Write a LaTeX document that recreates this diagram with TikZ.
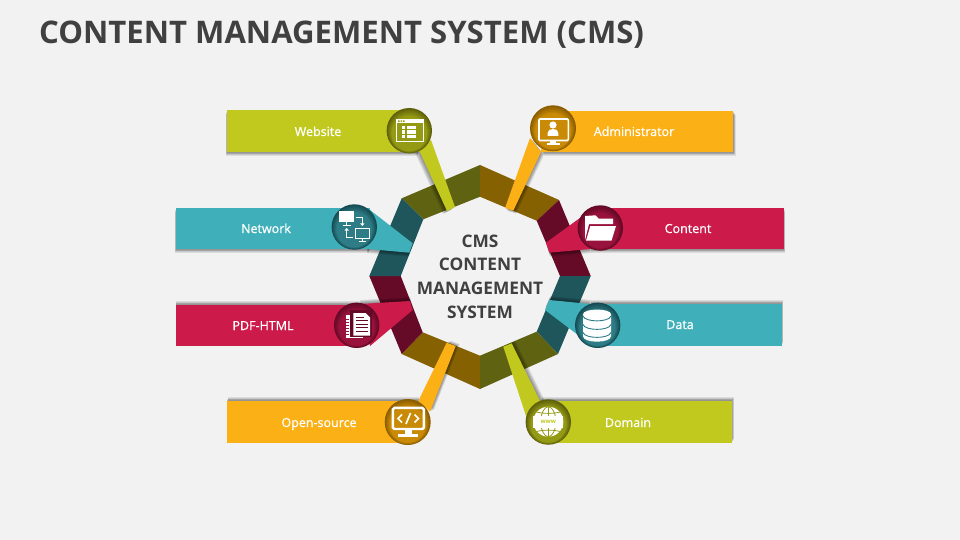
\documentclass[tikz,border=0pt]{standalone}
\usepackage{fontspec}
\setmainfont{Open Sans}
\newfontfamily\labfont{Open Sans}[FakeBold=0.8]
\definecolor{bg}{HTML}{F2F2F2}
\definecolor{ink}{HTML}{404040}
\definecolor{limec}{HTML}{C1C91E}
\definecolor{orangec}{HTML}{FBB116}
\definecolor{tealc}{HTML}{3FB0B9}
\definecolor{crimc}{HTML}{CC1A4A}
\definecolor{limem}{HTML}{959A14}
\definecolor{limed}{HTML}{5E610A}
\definecolor{orangem}{HTML}{C98A05}
\definecolor{oranged}{HTML}{8A5D00}
\definecolor{tealm}{HTML}{2E7D86}
\definecolor{teald}{HTML}{154C54}
\definecolor{crimm}{HTML}{98123C}
\definecolor{crimd}{HTML}{640925}
\definecolor{segolive}{HTML}{5F6311}
\definecolor{segbrown}{HTML}{856102}
\definecolor{segmaroon}{HTML}{660B27}
\definecolor{segteal}{HTML}{1F565C}
\newcommand\softsh[3]{\foreach \k in {1,2,3,4,5}{\fill[black,opacity=.09,shift={({\k*(#1)/5},{\k*(#2)/5})}] #3;}}
% badge: centre x, centre y, radius, colour stem
\newcommand\badge[4]{%
  \fill[#4d] (#1,#2) circle[radius=#3];
  \foreach \k in {1,2,3,4,5}{\fill[#4m!\the\numexpr\k*20\relax!#4d] ({#1},{#2+\k*0.55}) circle[radius={#3-\k*1.0}];}
}
\tikzset{
  label text/.style={text=white,font=\labfont\fontsize{12.5}{15}\selectfont,inner sep=0pt,anchor=base},
  center text/.style={text=ink,font=\fontsize{17.3}{22}\selectfont\bfseries,inner sep=0pt,anchor=center},
  iconline/.style={draw=white,line width=1pt,fill=none},
}
\begin{document}
\begin{tikzpicture}[x=1pt,y=-1pt]
\useasboundingbox (0,0) rectangle (960,540);
\fill[bg] (0,0) rectangle (960,540);
\node[text=ink,font=\fontsize{31.1}{36}\selectfont\bfseries,inner sep=0pt,anchor=west] (title) at (39,35) {CONTENT MANAGEMENT SYSTEM (CMS)};

% ring
\fill[segolive] (401.7,198.3) -- (480,165) -- (480,196.7) -- (423.3,219.3) -- cycle;
\fill[segbrown] (480,165) -- (559,200) -- (536.7,220.7) -- (480,196.7) -- cycle;
\fill[segmaroon] (559,200) -- (590.7,276) -- (560,276) -- (536.7,220.7) -- cycle;
\fill[segteal] (590.7,276) -- (558,354) -- (536.7,331.7) -- (560,276) -- cycle;
\fill[segolive] (558,354) -- (480,389) -- (480,355.7) -- (536.7,331.7) -- cycle;
\fill[segbrown] (480,389) -- (401.7,354) -- (422.7,332.3) -- (480,355.7) -- cycle;
\fill[segmaroon] (401.7,354) -- (369.3,276) -- (400.7,276) -- (422.7,332.3) -- cycle;
\fill[segteal] (369.3,276) -- (401.7,198.3) -- (423.3,219.3) -- (400.7,276) -- cycle;

% shadows
\softsh{-1}{4}{(227,110) rectangle (419,152)}
\softsh{-4}{3}{(419,150) -- (431,140) -- (455,207) -- (447,211) -- cycle}
\softsh{3}{4}{(541,111) rectangle (733,152)}
\softsh{3}{3}{(541,152) -- (530,138) -- (505,208) -- (513.3,210.7) -- cycle}
\softsh{-1}{4}{(176,208) rectangle (370,249)}
\softsh{-1}{4}{(370,210) -- (412.7,243.3) -- (409.3,252.7) -- (368,249) -- cycle}
\softsh{1}{4}{(590,208) rectangle (784,249)}
\softsh{1}{4}{(581.7,216.7) -- (546,242.7) -- (549.3,252.7) -- (590,249) -- cycle}
\softsh{0}{-4}{(176,305) rectangle (360,346)}
\softsh{0}{-4}{(360,304) -- (410,301) -- (412.7,310) -- (370,346) -- cycle}
\softsh{1}{-4}{(227,401) rectangle (418.3,443)}
\softsh{4}{-2}{(418.3,401) -- (430,411.7) -- (455.7,346) -- (446.7,342.7) -- cycle}
\softsh{1}{-4}{(590,304) rectangle (782,346)}
\softsh{1}{-4}{(549.3,300) -- (545,310) -- (576.7,334) -- (590,304) -- cycle}
\softsh{2}{-4}{(540,401) rectangle (732,443)}
\softsh{4}{-2}{(540,401) -- (526.7,418) -- (503.3,346.7) -- (511.7,343.3) -- cycle}

% ribbons
\fill[limec] (227,110) rectangle (419,152);
\fill[limec] (419,150) -- (431,140) -- (455,207) -- (447,211) -- cycle;
\fill[orangec] (541,111) rectangle (733,152);
\fill[orangec] (541,152) -- (530,138) -- (505,208) -- (513.3,210.7) -- cycle;
\fill[tealc] (176,208) rectangle (370,249);
\fill[tealc] (370,210) -- (412.7,243.3) -- (409.3,252.7) -- (368,249) -- cycle;
\fill[crimc] (590,208) rectangle (784,249);
\fill[crimc] (581.7,216.7) -- (546,242.7) -- (549.3,252.7) -- (590,249) -- cycle;
\fill[crimc] (176,305) rectangle (360,346);
\fill[crimc] (360,304) -- (410,301) -- (412.7,310) -- (370,346) -- cycle;
\fill[orangec] (227,401) rectangle (418.3,443);
\fill[orangec] (418.3,401) -- (430,411.7) -- (455.7,346) -- (446.7,342.7) -- cycle;
\fill[tealc] (590,304) rectangle (782,346);
\fill[tealc] (549.3,300) -- (545,310) -- (576.7,334) -- (590,304) -- cycle;
\fill[limec] (540,401) rectangle (732,443);
\fill[limec] (540,401) -- (526.7,418) -- (503.3,346.7) -- (511.7,343.3) -- cycle;

% badges
\badge{409.3}{130.7}{22.7}{lime}
\badge{553}{128.3}{23}{orange}
\badge{354.3}{227}{22.7}{teal}
\badge{600.3}{228}{22.7}{crim}
\badge{356.7}{325.3}{22.7}{crim}
\badge{407.7}{422}{23}{orange}
\badge{597.7}{325.3}{22.7}{teal}
\badge{548.3}{422}{22.7}{lime}

% Website icon
\draw[iconline] (396.5,119.5) rectangle (423.5,141.2);
\fill[white] (396,119) rectangle (424,123.5);
\fill[limem] (398,120.5) rectangle (399.5,122) (400.5,120.5) rectangle (402,122) (403,120.5) rectangle (404.5,122);
\foreach \yy in {126,130.4,134.8}{\fill[white] (402.3,\yy) rectangle (405.3,{\yy+3.3}); \fill[white] (407,\yy) rectangle (416,{\yy+3.3});}

% Administrator icon
\draw[draw=white,line width=1.6pt,rounded corners=1pt] (539,119) rectangle (568.3,140.5);
\fill[white] (553,125) circle[radius=3.6];
\fill[white] (547.7,136) -- (547.7,133) .. controls (547.7,130) and (550,129) .. (553,129) .. controls (556,129) and (558.3,130) .. (558.3,133) -- (558.3,136) -- cycle;
\fill[white] (550,140.5) rectangle (556,144);
\fill[white] (546.5,143.5) rectangle (560,145);

% Network icon
\fill[white] (339.3,211.3) rectangle (354,222);
\fill[white] (346,222) rectangle (347.3,225);
\fill[white] (343,224.5) rectangle (350.5,225.5);
\draw[iconline] (355.6,228.6) rectangle (369,238.2);
\fill[white] (361.7,238.2) rectangle (362.9,241);
\fill[white] (359,240.5) rectangle (365.5,241.4);
\draw[iconline] (355.7,217.3) -- (362.3,217.3) -- (362.3,224);
\fill[white] (360,223.3) -- (364.6,223.3) -- (362.3,226) -- cycle;
\draw[iconline] (352.7,237) -- (346.7,237) -- (346.7,230);
\fill[white] (344.4,230.7) -- (349,230.7) -- (346.7,228) -- cycle;

% Content icon
\fill[white] (585,240) -- (585,216) -- (595.5,215.3) -- (598.5,218.5) -- (613,218.5) -- (613,224) -- (589,224) -- cycle;
\fill[white] (590.3,226) -- (616,226) -- (611.5,240.7) -- (586,240.7) -- cycle;

% PDF-HTML icon
\fill[white] (345.7,315) rectangle (362.7,338.3);
\foreach \yy in {319,322,325,328,331,334}{\fill[crimm] (345.7,\yy) rectangle (348.5,{\yy+.8});}
\fill[crimd] (350.3,310) rectangle (372.3,337.3);
\fill[white] (353.3,313) -- (365.5,313) -- (370,317.5) -- (370,335.7) -- (353.3,335.7) -- cycle;
\foreach \yy in {316.5,320,323.5,327,330.5}{\fill[crimd] (355.5,\yy) rectangle ({\yy<318?364:367.5},{\yy+.9});}

% Open-source icon
\draw[draw=white,line width=2.4pt,rounded corners=1.5pt] (392.9,407.9) rectangle (423.8,429);
\fill[white] (404.5,430) rectangle (411.7,435);
\fill[white] (398.3,434.3) rectangle (417.7,437);
\draw[draw=white,line width=1.7pt] (402,414.5) -- (398,418.5) -- (402,422.5);
\draw[draw=white,line width=1.7pt] (414.5,414.5) -- (418.5,418.5) -- (414.5,422.5);
\draw[draw=white,line width=1.7pt] (410.5,413) -- (406,424);

% Data icon
\fill[white] (583,314.3) .. controls (583,308) and (611,308) .. (611,314.3) -- (611,336) .. controls (611,343.6) and (583,343.6) .. (583,336) -- cycle;
\foreach \yy in {317,325.5,333.5}{\draw[draw=tealm,line width=.9pt] (583,{\yy-1}) .. controls (585,{\yy+5.5}) and (609,{\yy+5.5}) .. (611,{\yy-1});}

% Domain icon
\fill[white] (548.3,421.7) circle[radius=15];
\draw[draw=limem,line width=.8pt] (548.3,406.7) -- (548.3,436.7);
\draw[draw=limem,line width=.8pt] (548.3,421.7) ellipse[x radius=7.5,y radius=15];
\draw[draw=limem,line width=.8pt] (535,411.5) .. controls (542,414) and (555,414) .. (561.5,411.5);
\draw[draw=limem,line width=.8pt] (535,432) .. controls (542,429.5) and (555,429.5) .. (561.5,432);
\fill[white] (533.3,415.7) rectangle (563.3,427.7);
\node[text=limec,font=\fontsize{6}{7}\selectfont\bfseries,inner sep=0pt] (wwwtext) at (548.3,421.7) {www};

% labels
\node[label text] (website) at (318,136) {Website};
\node[label text] (admin) at (634,136) {Administrator};
\node[label text] (network) at (266,233) {Network};
\node[label text] (content) at (688,233) {Content};
\node[label text] (pdf) at (263,330) {PDF-HTML};
\node[label text] (data) at (680,329) {Data};
\node[label text] (opensrc) at (319,427) {Open-source};
\node[label text] (domain) at (628,427) {Domain};

\node[center text] (c1) at (480,241) {CMS};
\node[center text] (c2) at (480,264.5) {CONTENT};
\node[center text] (c3) at (480,288) {MANAGEMENT};
\node[center text] (c4) at (480,312) {SYSTEM};
\end{tikzpicture}
\end{document}
